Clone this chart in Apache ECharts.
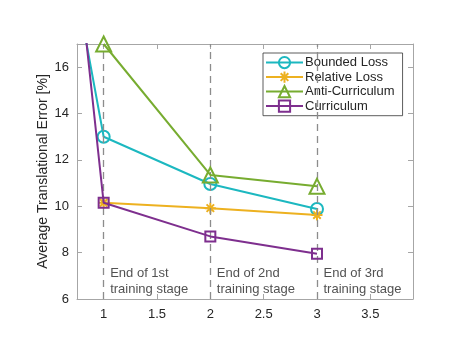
<!DOCTYPE html>
<html>
<head>
<meta charset="utf-8">
<script src="https://cdn.jsdelivr.net/npm/echarts@6/dist/echarts.min.js"></script>
<style>html,body{margin:0;padding:0;background:#fff}#c{width:474px;height:355px}</style>
</head>
<body>
<div id="c"></div>
<script>
// ---- data ----
const stages = [0, 1, 2, 3];
const boundedLoss = [38, 13.0, 10.96, 9.88];
const relativeLoss = [null, 10.15, 9.92, 9.62];
const antiCurriculum = [null, 17.0, 11.35, 10.86];
const curriculum = [53, 10.15, 8.7, 7.95];
const seriesNames = ['Bounded Loss', 'Relative Loss', 'Anti-Curriculum', 'Curriculum'];
const xTicks = [1, 1.5, 2, 2.5, 3, 3.5];
const yTicks = [6, 8, 10, 12, 14, 16];
const stageLines = [1, 2, 3];
const stageLabels = ['End of 1st\ntraining stage', 'End of 2nd\ntraining stage', 'End of 3rd\ntraining stage'];
const stageLabelY = 6.75;
const yName = 'Average Translational Error [%]';

// ---- style ----
const colors = ['#1cb8c0', '#edb120', '#77ac30', '#7e2f8e'];
const symbols = ['circle', 'path://M0,5L10,5M5,0L5,10M1.6,1.6L8.4,8.4M8.4,1.6L1.6,8.4', 'triangle', 'rect'];
const symbolSizes = [12, 11, 15, 10];
const axisColor = '#a6a6a6';
const font = 'Liberation Sans, Arial, Helvetica, sans-serif';

function pairs(vals) {
  const out = [];
  vals.forEach((v, i) => {
    if (v === null) return;
    if (stages[i] < 1) out.push({ value: [stages[i], v], symbol: 'none' });
    else out.push([stages[i], v]);
  });
  return out;
}

const dataSets = [boundedLoss, relativeLoss, antiCurriculum, curriculum];
const series = dataSets.map((d, i) => ({
  name: seriesNames[i],
  type: 'line',
  xAxisIndex: 0, yAxisIndex: 0,
  data: pairs(d),
  symbol: symbols[i],
  symbolSize: symbolSizes[i],
  symbolKeepAspect: true,
  clip: true,
  lineStyle: { color: colors[i], width: 2 },
  itemStyle: { color: 'rgba(255,255,255,0)', borderColor: colors[i], borderWidth: 2 },
  emphasis: { disabled: true },
  z: 3 + i
}));

series.push({
  type: 'line',
  xAxisIndex: 0, yAxisIndex: 0,
  data: [],
  silent: true,
  markLine: {
    silent: true,
    symbol: 'none',
    label: { show: false },
    lineStyle: { color: '#8c8c8c', type: [7, 5], width: 1.3 },
    data: stageLines.map(x => ({ xAxis: x }))
  },
  z: 1
});

series.push({
  type: 'scatter',
  xAxisIndex: 0, yAxisIndex: 0,
  symbolSize: 1,
  itemStyle: { color: 'rgba(0,0,0,0)' },
  silent: true,
  data: stageLines.map((x, i) => ({ value: [x, stageLabelY], name: stageLabels[i] })),
  label: {
    show: true,
    position: 'right',
    distance: 6,
    formatter: p => p.name,
    fontFamily: font,
    fontSize: 13,
    lineHeight: 16,
    color: '#262626',
    align: 'left',
    verticalAlign: 'middle'
  },
  z: 2
});

const chart = echarts.init(document.getElementById('c'), null, { renderer: 'canvas' });
chart.setOption({
  animation: false,
  backgroundColor: '#fff',
  textStyle: { fontFamily: font },
  grid: { left: 77, right: 61, top: 44, bottom: 56, containLabel: false },
  legend: {
    data: seriesNames,
    left: 263,
    top: 53,
    orient: 'vertical',
    itemWidth: 37,
    itemHeight: 14,
    itemGap: 1.3,
    padding: [3, 8, 3, 2],
    borderColor: '#333',
    borderWidth: 0.8,
    backgroundColor: '#fff',
    textStyle: { fontFamily: font, fontSize: 13, color: '#262626', padding: [0, 0, 0, -3] }
  },
  xAxis: [{
    type: 'value', position: 'bottom', min: 0.75, max: 3.9,
    splitLine: { show: false },
    axisLine: { show: true, lineStyle: { color: axisColor, width: 1 } },
    axisTick: { show: true, inside: true, length: 5, customValues: xTicks, lineStyle: { color: axisColor } },
    axisLabel: { customValues: xTicks, color: '#262626', fontSize: 13, fontFamily: font, margin: 9 }
  }, {
    type: 'value', position: 'top', min: 0.75, max: 3.9,
    splitLine: { show: false },
    axisLine: { show: true, lineStyle: { color: axisColor, width: 1 } },
    axisTick: { show: true, inside: true, length: 5, customValues: xTicks, lineStyle: { color: axisColor } },
    axisLabel: { show: false }
  }],
  yAxis: [{
    type: 'value', position: 'left', min: 6, max: 17,
    name: yName, nameLocation: 'middle', nameGap: 27, nameMoveOverlap: false,
    nameTextStyle: { fontFamily: font, fontSize: 14, color: '#262626' },
    splitLine: { show: false },
    axisLine: { show: true, lineStyle: { color: axisColor, width: 1 } },
    axisTick: { show: true, inside: true, length: 5, customValues: yTicks, lineStyle: { color: axisColor } },
    axisLabel: { customValues: yTicks, color: '#262626', fontSize: 13, fontFamily: font, margin: 8 }
  }, {
    type: 'value', position: 'right', min: 6, max: 17,
    splitLine: { show: false },
    axisLine: { show: true, lineStyle: { color: axisColor, width: 1 } },
    axisTick: { show: true, inside: true, length: 5, customValues: yTicks, lineStyle: { color: axisColor } },
    axisLabel: { show: false }
  }],
  series: series
});
</script>
</body>
</html>
